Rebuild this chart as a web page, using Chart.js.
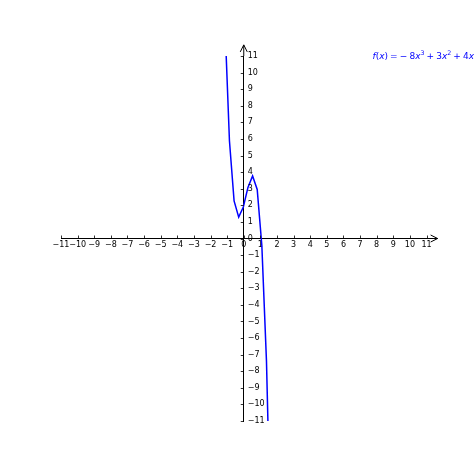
<!DOCTYPE html>
<html>
<head>
<meta charset="utf-8">
<script src="https://cdn.jsdelivr.net/npm/chart.js@4/dist/chart.umd.min.js"></script>
<style>
  html, body { margin: 0; padding: 0; background: #ffffff; }
  #marco { width: 474px; height: 474px; }
</style>
</head>
<body>
<div id="marco"><canvas id="grafico" width="474" height="474"></canvas></div>
<script>
// puntos de la curva
const puntosX = [-1.139, -0.861, -0.582, -0.304, -0.025, 0.253, 0.532, 0.81, 1.089, 1.367, 1.646];
const puntosY = [13.16, 5.89, 2.27, 1.29, 1.9, 3.08, 3.77, 2.96, -0.42, -7.36, -18.97];

const marcasX = [-11, -10, -9, -8, -7, -6, -5, -4, -3, -2, -1, 0, 1, 2, 3, 4, 5, 6, 7, 8, 9, 10, 11];
const marcasY = [-11, -10, -9, -8, -7, -6, -5, -4, -3, -2, -1, 0, 1, 2, 3, 4, 5, 6, 7, 8, 9, 10, 11];

const limiteMin = -11;
const limiteMax = 11;
const puntaFlecha = 11.67;

const fuente = "'DejaVu Sans', sans-serif";
const tamLetra = 8;

function textoMarca(v) {
  return String(v).replace("-", "\u2212");
}

// flechas, marcas del eje, etiquetas del eje y y la fórmula
const ejes = {
  id: "ejes",
  afterDraw(chart) {
    const ctx = chart.ctx;
    const sx = chart.scales.x;
    const sy = chart.scales.y;
    const x0 = sx.getPixelForValue(0);
    const y0 = sy.getPixelForValue(0);

    ctx.save();
    ctx.strokeStyle = "#000000";
    ctx.lineWidth = 1;

    // prolongación de los ejes hasta la flecha
    const xFin = sx.getPixelForValue(puntaFlecha);
    const yFin = sy.getPixelForValue(puntaFlecha);
    ctx.beginPath();
    ctx.moveTo(sx.getPixelForValue(limiteMax), y0);
    ctx.lineTo(xFin, y0);
    ctx.moveTo(xFin - 7, y0 - 3.5);
    ctx.lineTo(xFin, y0);
    ctx.lineTo(xFin - 7, y0 + 3.5);
    ctx.moveTo(x0, sy.getPixelForValue(limiteMax));
    ctx.lineTo(x0, yFin);
    ctx.moveTo(x0 - 3.5, yFin + 7);
    ctx.lineTo(x0, yFin);
    ctx.lineTo(x0 + 3.5, yFin + 7);
    ctx.stroke();

    // marcas
    ctx.lineWidth = 0.8;
    ctx.beginPath();
    marcasX.forEach((v) => {
      const px = Math.round(sx.getPixelForValue(v)) + 0.5;
      ctx.moveTo(px, y0);
      ctx.lineTo(px, y0 - 3);
    });
    marcasY.forEach((v) => {
      const py = Math.round(sy.getPixelForValue(v)) + 0.5;
      ctx.moveTo(x0, py);
      ctx.lineTo(x0 - 3, py);
    });
    ctx.stroke();

    // etiquetas del eje y, a la derecha del eje
    ctx.fillStyle = "#000000";
    ctx.font = `${tamLetra}px ${fuente}`;
    ctx.textAlign = "left";
    ctx.textBaseline = "middle";
    marcasY.forEach((v) => {
      ctx.fillText(textoMarca(v), x0 + 4, sy.getPixelForValue(v));
    });

    // fórmula
    const piezas = [
      ["f", "i"], ["(", "n"], ["x", "i"], [")", "n"], [" ", "g"], ["=", "n"], [" ", "g"],
      ["\u2212", "n"], [" ", "g"], ["8", "n"], ["x", "i"], ["3", "s"], [" ", "g"], ["+", "n"], [" ", "g"],
      ["3", "n"], ["x", "i"], ["2", "s"], [" ", "g"], ["+", "n"], [" ", "g"],
      ["4", "n"], ["x", "i"], [" ", "g"], ["+", "n"], [" ", "g"], ["2", "n"]
    ];
    const tam = 9;
    let cx = 372.5;
    const base = 58.5;
    ctx.fillStyle = "#0000ff";
    ctx.textBaseline = "alphabetic";
    piezas.forEach(([t, tipo]) => {
      if (tipo === "g") {
        cx += 2.1;
        return;
      }
      if (tipo === "i") ctx.font = `italic ${tam}px ${fuente}`;
      else if (tipo === "s") ctx.font = `${tam * 0.7}px ${fuente}`;
      else ctx.font = `${tam}px ${fuente}`;
      const dy = tipo === "s" ? -4 : 0;
      ctx.fillText(t, cx, base + dy);
      cx += ctx.measureText(t).width;
    });
    ctx.restore();
  }
};

const datos = puntosX.map((x, i) => ({ x: x, y: puntosY[i] }));

new Chart(document.getElementById("grafico"), {
  type: "scatter",
  data: {
    datasets: [
      {
        data: datos,
        showLine: true,
        borderColor: "#0000ff",
        borderWidth: 1.5,
        pointRadius: 0,
        tension: 0,
        fill: false
      }
    ]
  },
  options: {
    responsive: false,
    animation: false,
    layout: {
      padding: { left: 61, right: 47.5, top: 56, bottom: 53 }
    },
    plugins: {
      legend: { display: false },
      tooltip: { enabled: false }
    },
    scales: {
      x: {
        type: "linear",
        min: limiteMin,
        max: limiteMax,
        position: { y: 0 },
        afterBuildTicks: (s) => {
          s.ticks = marcasX.map((v) => ({ value: v }));
        },
        grid: { display: false, drawTicks: false },
        border: { color: "#000000", width: 1 },
        ticks: {
          color: "#000000",
          padding: 2,
          maxRotation: 0,
          autoSkip: false,
          font: { family: fuente, size: tamLetra },
          callback: (v) => textoMarca(v)
        }
      },
      y: {
        type: "linear",
        min: limiteMin,
        max: limiteMax,
        position: { x: 0 },
        afterBuildTicks: (s) => {
          s.ticks = marcasY.map((v) => ({ value: v }));
        },
        grid: { display: false, drawTicks: false },
        border: { color: "#000000", width: 1 },
        ticks: { display: false }
      }
    }
  },
  plugins: [ejes]
});
</script>
</body>
</html>
